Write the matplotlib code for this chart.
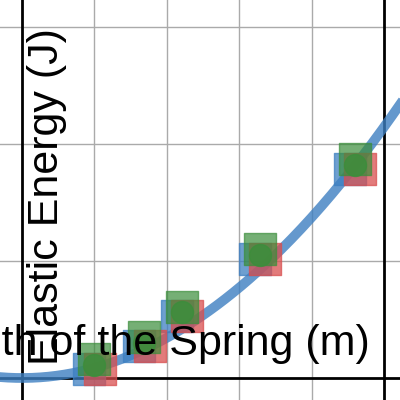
import numpy as np
import matplotlib.pyplot as plt

plt.rcParams['font.family'] = ['Liberation Sans', 'DejaVu Sans']

# measured points (length m, energy J)
xs = [1.0, 1.69, 2.21, 3.28, 4.59]
ys = [0.11, 0.30, 0.56, 1.05, 1.82]
k = 0.086

fig = plt.figure(figsize=(4, 4), dpi=100)
ax = fig.add_axes([0, 0, 1, 1])
ax.set_xlim(-0.303, 5.214)
ax.set_ylim(-0.188, 3.23)

for gx in [1, 2, 3, 4]:
    ax.axvline(gx, color='#aaaaaa', lw=1, zorder=0)
for gy in [1, 2, 3]:
    ax.axhline(gy, color='#aaaaaa', lw=1, zorder=0)
ax.axvline(0, color='black', lw=2, zorder=1)
ax.axvline(5, color='black', lw=2, zorder=1)
ax.axhline(0, color='black', lw=2, zorder=1)

cx = np.linspace(-0.303, 5.214, 200)
ax.plot(cx, k * cx**2, color='#3d7fc1', lw=7, alpha=0.8, zorder=2)

d = 0.07
ax.scatter([x - d for x in xs], [y - 0.03 for y in ys], marker='s', s=500, color='#3d7fc1', alpha=0.75, zorder=3)
ax.scatter([x + d for x in xs], [y - 0.03 for y in ys], marker='s', s=500, color='#d94f4f', alpha=0.75, zorder=3)
ax.scatter(xs, [y + 0.05 for y in ys], marker='s', s=500, color='#3b8e3b', alpha=0.7, zorder=4)
ax.scatter(xs, ys, marker='o', s=250, color='#3b8e3b', alpha=0.8, zorder=5)

ax.text(4.79, 0.20, 'Length of the Spring (m)', fontsize=31, ha='right', va='baseline', zorder=6)
ax.text(0.35, 1.55, 'Elastic Energy (J)', fontsize=31, rotation=90, ha='center', va='center', zorder=6)

ax.axis('off')
fig.savefig('out.png', dpi=100)
